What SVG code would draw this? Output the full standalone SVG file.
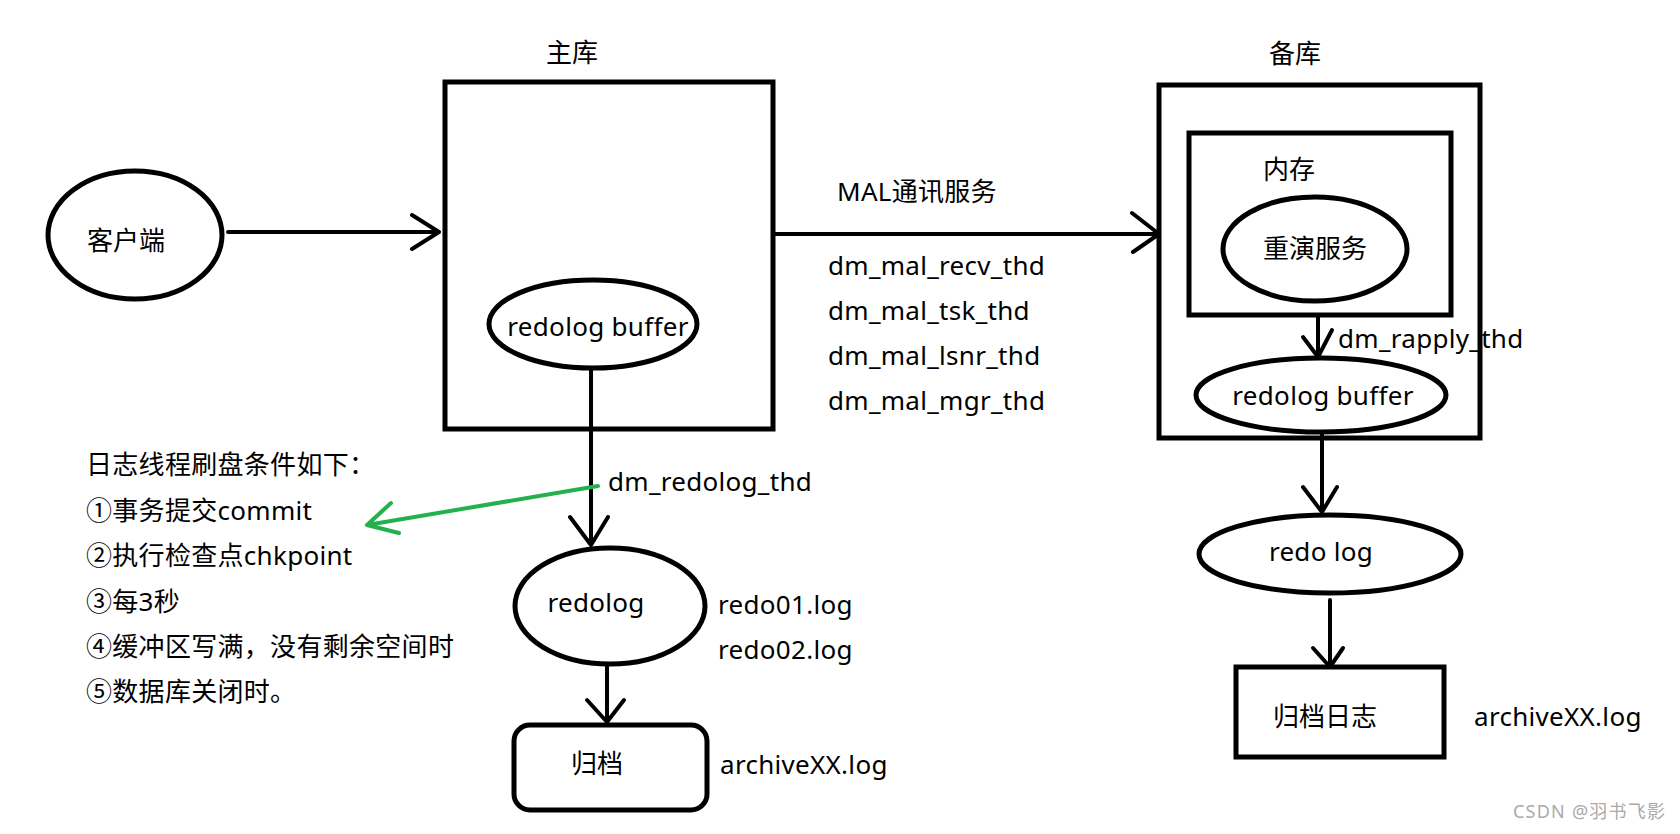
<svg xmlns="http://www.w3.org/2000/svg" width="1680" height="834" viewBox="0 0 1680 834">
<defs>
<style>
text{font-family:"Noto Sans","Noto Sans CJK SC",sans-serif;font-size:26px;fill:#000;letter-spacing:0.3px}
.t{font-family:"Noto Sans CJK SC",sans-serif;letter-spacing:0}
.s{fill:none;stroke:#000;stroke-width:5}
.c{fill:none;stroke:#000;stroke-width:4;stroke-linecap:round;stroke-linejoin:round}
.g{fill:none;stroke:#22b14c;stroke-width:4;stroke-linecap:round;stroke-linejoin:round}
.m{text-anchor:middle}
</style>
</defs>
<rect width="1680" height="834" fill="#fff"/>

<g id="client">
<ellipse class="s" cx="135" cy="235" rx="87" ry="64"/>
<text class="t m" x="126" y="250">客户端</text>
</g>

<g id="primary">
<text class="t m" x="572" y="62">主库</text>
<rect class="s" x="445" y="82" width="328" height="347"/>
</g>

<g id="primary-buffer">
<ellipse class="s" cx="593" cy="324" rx="104" ry="44"/>
<text class="m" x="598" y="336">redolog buffer</text>
</g>

<g id="primary-redolog">
<ellipse class="s" cx="610" cy="606" rx="95" ry="58"/>
<text class="m" x="596" y="612">redolog</text>
<text x="718" y="614">redo01.log</text>
<text x="718" y="659">redo02.log</text>
</g>

<g id="primary-archive">
<rect class="s" x="514" y="725" width="193" height="85" rx="16"/>
<text class="t m" x="597" y="773">归档</text>
<text x="720" y="774">archiveXX.log</text>
</g>

<g id="standby">
<text class="t m" x="1295" y="63">备库</text>
<rect class="s" x="1159" y="85" width="321" height="353"/>
</g>

<g id="memory">
<rect class="s" x="1189" y="133" width="262" height="182"/>
<text class="t m" x="1289" y="179">内存</text>
</g>

<g id="replay">
<ellipse class="s" cx="1315" cy="249" rx="92" ry="52"/>
<text class="t m" x="1315" y="258">重演服务</text>
</g>

<g id="standby-buffer">
<ellipse class="s" cx="1321" cy="395" rx="125" ry="37"/>
<text class="m" x="1323" y="405">redolog buffer</text>
</g>

<g id="standby-redolog">
<ellipse class="s" cx="1330" cy="554" rx="131" ry="39"/>
<text class="m" x="1321" y="561">redo log</text>
</g>

<g id="standby-archive">
<rect class="s" x="1236" y="667" width="208" height="90"/>
<text class="t m" x="1325" y="726">归档日志</text>
<text x="1474" y="726">archiveXX.log</text>
</g>

<g id="notes">
<text x="86" y="474">日志线程刷盘条件如下：</text>
<text x="86" y="520">①事务提交commit</text>
<text x="86" y="565">②执行检查点chkpoint</text>
<text x="86" y="611">③每3秒</text>
<text x="86" y="656">④缓冲区写满，没有剩余空间时</text>
<text x="86" y="701">⑤数据库关闭时。</text>
</g>

<g id="connectors">
<path class="c" d="M228 232H439M412 215L439 232L412 249"/>
<path class="c" d="M773 234H1159M1132 213L1159 234L1133 252"/>
<text x="837" y="201">MAL通讯服务</text>
<text x="828" y="275">dm_mal_recv_thd</text>
<text x="828" y="320">dm_mal_tsk_thd</text>
<text x="828" y="365">dm_mal_lsnr_thd</text>
<text x="828" y="410">dm_mal_mgr_thd</text>
<path class="c" d="M591 368V545M570 517L591 545L608 517"/>
<text x="608" y="491">dm_redolog_thd</text>
<path class="g" d="M598 486L367 525M391 503L367 525L399 533"/>
<path class="c" d="M607 665V722M587 700L607 722L624 700"/>
<path class="c" d="M1318 315V357M1303 337L1318 357L1332 330"/>
<text x="1338" y="348">dm_rapply_thd</text>
<path class="c" d="M1322 433V512M1303 487L1322 512L1337 487"/>
<path class="c" d="M1330 600V667M1313 648L1330 667L1343 648"/>
</g>

<text x="1513" y="818" textLength="152" style="font-size:18px;fill:#aaa;letter-spacing:0">CSDN @羽书飞影</text>
</svg>
